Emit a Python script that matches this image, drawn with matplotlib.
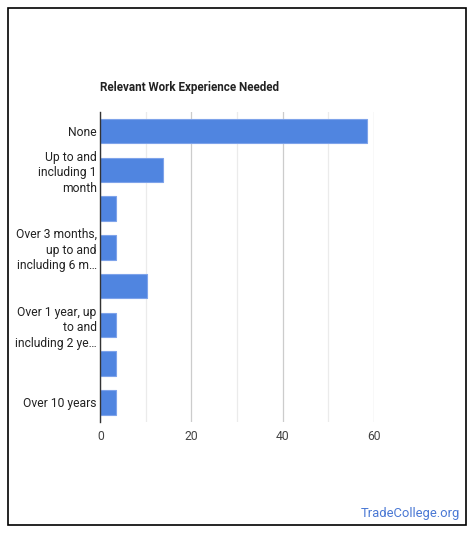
import matplotlib.pyplot as plt
from matplotlib.patches import Rectangle

# dados
categorias = [
    'None',
    'Up to and including 1 month',
    'Over 1 month, up to and including 3 months',
    'Over 3 months, up to and including 6 months',
    'Over 6 months, up to and including 1 year',
    'Over 1 year, up to and including 2 years',
    'Over 2 years, up to and including 4 years',
    'Over 10 years',
]
rotulos = [
    'None',
    'Up to and\nincluding 1\nmonth',
    '',
    'Over 3 months,\nup to and\nincluding 6 m\u2026',
    '',
    'Over 1 year, up\nto and\nincluding 2 ye\u2026',
    '',
    'Over 10 years',
]
valores = [58.6, 13.8, 3.4, 3.4, 10.3, 3.4, 3.4, 3.4]
ticks_x = [0, 20, 40, 60]

plt.rcParams['font.family'] = ['Roboto', 'DejaVu Sans']

W, H = 476, 536
fig = plt.figure(figsize=(W / 100, H / 100), dpi=100)
ax = fig.add_axes([100.3 / W, 1 - 421.7 / H, (373.7 - 100.3) / W, (421.7 - 111.7) / H])

pos = list(range(len(categorias)))
ax.barh(pos, valores, height=0.63, color='#5085e0', edgecolor='#7ea3ea', linewidth=0.8, zorder=3)

ax.set_ylim(len(categorias) - 0.5, -0.5)
ax.set_xlim(0, 60)
ax.set_yticks(pos)
ax.set_yticklabels(rotulos, fontsize=8.7, color='#222222', linespacing=1.25)
ax.set_xticks(ticks_x)
ax.set_xticklabels([str(t) for t in ticks_x], fontsize=8.7, color='#444444')
ax.set_xticks([10, 30, 50], minor=True)
ax.tick_params(axis='y', length=0, pad=2.5)
ax.tick_params(axis='x', which='both', length=0, pad=6)
ax.grid(axis='x', which='major', color='#cccccc', linewidth=0.9, zorder=0)
ax.grid(axis='x', which='minor', color='#ebebeb', linewidth=0.9, zorder=0)

for lado in ['top', 'right', 'bottom']:
    ax.spines[lado].set_visible(False)
ax.spines['left'].set_color('#333333')
ax.spines['left'].set_linewidth(1.0)
ax.spines['left'].set_zorder(4)

fig.text(100 / W, 1 - 87 / H, 'Relevant Work Experience Needed', fontsize=8.4,
         fontweight='bold', color='#222222', ha='left', va='center')
fig.text(460 / W, 1 - 514 / H, 'TradeCollege.org', fontsize=9.4,
         color='#4a78d4', ha='right', va='center')

fig.patches.append(Rectangle((8 / W, 1 - 525 / H), 458 / W, 517 / H, transform=fig.transFigure,
                             fill=False, edgecolor='black', linewidth=1.2))

fig.savefig('out.png', dpi=100)
